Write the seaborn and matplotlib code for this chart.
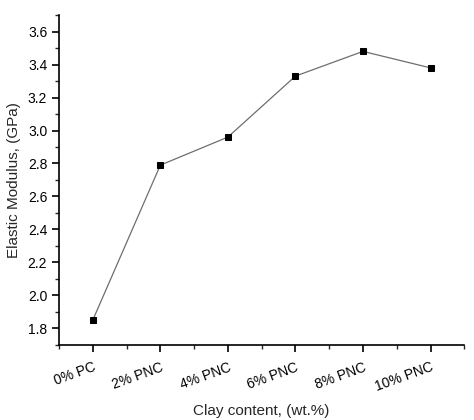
import matplotlib
matplotlib.use("Agg")
import matplotlib.pyplot as plt
import seaborn as sns
import pandas as pd
from matplotlib.ticker import MultipleLocator, AutoMinorLocator

# values
categories = ["0% PC", "2% PNC", "4% PNC", "6% PNC", "8% PNC", "10% PNC"]
modulus = [1.85, 2.79, 2.96, 3.33, 3.48, 3.38]

df = pd.DataFrame({"pos": range(len(categories)), "modulus": modulus})

sns.set_style("ticks")
plt.rcParams["font.family"] = ["Liberation Sans", "DejaVu Sans"]

fig = plt.figure(figsize=(4.74, 4.2), dpi=100)
ax = fig.add_axes([0.1245, 0.179, 0.855, 0.785])

sns.lineplot(data=df, x="pos", y="modulus", ax=ax, color="#6e6e6e", linewidth=0.9,
             marker="s", markersize=5, markerfacecolor="black", markeredgecolor="black")

ax.set_xlim(-0.5, 5.5)
ax.set_ylim(1.7, 3.7)
ax.set_xticks(range(len(categories)))
ax.set_xticklabels(categories, rotation=20, ha="right", rotation_mode="anchor")
ax.xaxis.set_minor_locator(MultipleLocator(0.5))
ax.yaxis.set_major_locator(MultipleLocator(0.2))
ax.yaxis.set_minor_locator(AutoMinorLocator(2))

ax.tick_params(axis="both", which="major", direction="out", length=5, width=1.2,
               labelsize=10, colors="black")
ax.tick_params(axis="x", which="major", pad=6)
ax.tick_params(axis="both", which="minor", direction="out", length=3, width=1.0)

ax.set_xlabel("Clay content, (wt.%)", fontsize=11, labelpad=7)
ax.set_ylabel("Elastic Modulus, (GPa)", fontsize=11, labelpad=5)

sns.despine(ax=ax)
for side in ["left", "bottom"]:
    ax.spines[side].set_linewidth(1.2)
    ax.spines[side].set_color("black")

fig.savefig("out.png", dpi=100)
